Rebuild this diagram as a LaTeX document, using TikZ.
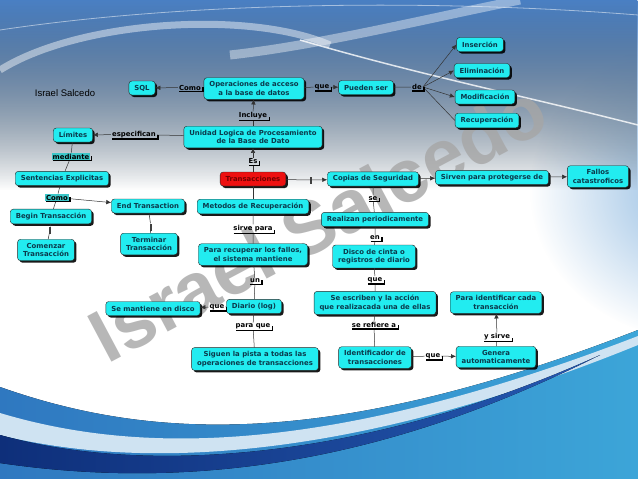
\documentclass[tikz,border=0pt]{standalone}
\usepackage{fontspec}
\setmainfont{DejaVu Sans}
\newfontfamily\wmfont{Liberation Sans}
\usetikzlibrary{arrows.meta,shadows,fadings}

\definecolor{boxcyan}{HTML}{22ECF0}
\definecolor{boxtext}{HTML}{0B3A4C}
\definecolor{linkcyan}{HTML}{3CC6C8}
\definecolor{transred}{HTML}{EE1010}
\definecolor{skytop}{HTML}{4A80C4}
\definecolor{skymid}{HTML}{A8CAE8}
\definecolor{skyglow}{HTML}{8CB8E0}
\definecolor{waveleft}{HTML}{2F78C0}
\definecolor{waveright}{HTML}{3CA5D8}
\definecolor{wavelight}{HTML}{CFE3F2}
\definecolor{navyleft}{HTML}{0E2F7A}
\definecolor{navyright}{HTML}{2458B0}

\tikzfading[name=skyfade, top color=transparent!0, bottom color=transparent!100]
\tikzfading[name=glowfade, inner color=transparent!0, outer color=transparent!100]

\newcommand{\boxfont}{\fontsize{6.9}{8.6}\selectfont\bfseries}

\tikzset{
  concept/.style={draw=black!85, fill=boxcyan, text=boxtext, font=\boxfont, rounded corners=3pt,
    align=center, inner xsep=5.5pt, inner ysep=3.8pt, minimum height=14pt,
    drop shadow={shadow xshift=2pt, shadow yshift=-2pt, fill=black, opacity=.9}},
  key/.style={concept, fill=transred, text=red!45!black},
  link/.style={font=\boxfont, text=black, inner sep=1pt},
  linkc/.style={link, fill=linkcyan},
  blank/.style={fill=black!75, minimum width=1.2pt, minimum height=7pt, inner sep=0pt},
  conn/.style={black!80, line width=.5pt},
  arr/.style={conn, -{Latex[length=5pt,width=4.5pt]}},
  uline/.style={line width=1.3pt, black},
  wm/.style={font=\wmfont\bfseries\fontsize{75}{75}\selectfont, text=gray!70, opacity=.8, rotate=28}
}

\begin{document}
\begin{tikzpicture}[x=1pt,y=-1pt]
  \useasboundingbox (0,0) rectangle (638,479);
  % background
  \fill[white] (0,0) rectangle (638,479);
  \fill[skyglow, path fading=glowfade] (700,190) ellipse (170 and 150);
  \fill[top color=skytop, bottom color=skymid, path fading=skyfade] (0,0) rectangle (638,190);
  \draw[white, opacity=.45, line width=7pt] (0,70) .. controls (80,20) and (250,10) .. (330,45);
  \draw[white, opacity=.4, line width=9pt] (230,55) .. controls (320,45) and (420,20) .. (520,0);
  \draw[white, opacity=.5, line width=.8pt] (0,30) .. controls (200,0) and (450,0) .. (638,15);
  \draw[white, opacity=.8, line width=1.5pt] (300,40) .. controls (420,75) and (520,95) .. (638,125);
  \fill[left color=waveleft, right color=waveright] (0,387) .. controls (150,440) and (330,450) .. (638,330) -- (638,479) -- (0,479) -- cycle;
  \fill[wavelight] (0,413) .. controls (140,455) and (330,455) .. (638,336) -- (638,345) .. controls (350,462) and (140,470) .. (0,435) -- cycle;
  \fill[left color=navyleft, right color=navyright] (0,435) .. controls (130,472) and (350,468) .. (600,355) .. controls (450,430) and (250,500) .. (0,463) -- cycle;
  % watermark
  \node[wm] (wm) at (318,222) {Israel Salcedo};
  \node[font=\wmfont\fontsize{9.5}{11}\selectfont] (author) at (65,93) {Israel Salcedo};

  % concepts
  \node[concept] (sql) at (142,88) {SQL};
  \node[concept] (ops) at (254,88.5) {Operaciones de acceso\\a la base de datos};
  \node[concept] (pueden) at (366,87.5) {Pueden ser};
  \node[concept] (ins) at (480,44.5) {Inserción};
  \node[concept] (elim) at (482,70.5) {Eliminación};
  \node[concept] (modif) at (485,97) {Modificación};
  \node[concept] (recup) at (487,120.5) {Recuperación};
  \node[concept] (unidad) at (253,137) {Unidad Logica de Procesamiento\\de la Base de Dato};
  \node[concept] (limites) at (73,135) {Límites};
  \node[concept] (sent) at (62,178.5) {Sentencias Explicitas};
  \node[concept] (endt) at (148,206) {End Transaction};
  \node[concept] (begint) at (51,216.5) {Begin Transacción};
  \node[concept] (comenzar) at (46,250) {Comenzar\\Transacción};
  \node[concept] (terminar) at (149,244) {Terminar\\Transacción};
  \node[key] (trans) at (253,179) {Transacciones};
  \node[concept] (copias) at (373,179) {Copias de Seguridad};
  \node[concept] (sirven) at (492,177.5) {Sirven para protegerse de};
  \node[concept] (fallos) at (598,176.5) {Fallos\\catastroficos};
  \node[concept] (realizan) at (375,219.5) {Realizan periodicamente};
  \node[concept] (disco) at (374,256.5) {Disco de cinta o\\registros de diario};
  \node[concept] (escriben) at (375,303) {Se escriben y la acción\\que realizacada una de ellas};
  \node[concept] (ident) at (375,357.5) {Identificador de\\transacciones};
  \node[concept] (genera) at (496,357) {Genera\\automaticamente};
  \node[concept] (paraid) at (496,302.5) {Para identificar cada\\transacción};
  \node[concept] (metodos) at (253,206.5) {Metodos de Recuperación};
  \node[concept] (recuperar) at (253,254.5) {Para recuperar los fallos,\\el sistema mantiene};
  \node[concept] (diario) at (254,306.5) {Diario (log)};
  \node[concept] (mantiene) at (153,308.5) {Se mantiene en disco};
  \node[concept] (siguen) at (255,359) {Siguen la pista a todas las\\operaciones de transacciones};

  % linking phrases
  \node[link] (como) at (190,87.5) {Como};
  \node[link] (que1) at (322,87) {que};
  \node[link] (de) at (417,87) {de};
  \node[link] (incluye) at (253,116) {Incluye};
  \node[link] (especifican) at (134,134.5) {especifican};
  \node[linkc] (mediante) at (71,156.5) {mediante};
  \node[linkc] (como2) at (57,197.5) {Como};
  \node[link] (es) at (253,161.5) {Es};
  \node[link] (se) at (373,198.5) {se};
  \node[link] (en) at (375,238) {en};
  \node[link] (que2) at (375,280) {que};
  \node[link] (refiere) at (374,325) {se refiere a};
  \node[link] (que3) at (433,356) {que};
  \node[link] (ysirve) at (497,337) {y sirve};
  \node[link] (sirvepara) at (253,229) {sirve para};
  \node[link] (un) at (255,281) {un};
  \node[link] (que4) at (217,307) {que};
  \node[link] (paraque) at (253,326.5) {para que};
  \node[blank] (t1) at (50,230) {};
  \node[blank] (t2) at (151,227) {};
  \node[blank] (t3) at (311,180) {};

  % connectors
  \draw[conn] (ops) -- (como);
  \draw[arr] (como) -- (sql);
  \draw[conn] (ops) -- (que1);
  \draw[arr] (que1) -- (pueden);
  \draw[conn] (pueden) -- (de);
  \draw[arr] (de.east) -- (ins.west);
  \draw[arr] (de.east) -- (elim.west);
  \draw[arr] (de.east) -- (modif.west);
  \draw[conn] (de.east) -- (recup.west);
  \draw[conn] (unidad) -- (incluye);
  \draw[arr] (incluye) -- (ops);
  \draw[conn] (unidad) -- (especifican);
  \draw[arr] (especifican) -- (limites);
  \draw[conn] (limites) -- (mediante) -- (sent);
  \draw[conn] (sent) -- (como2) -- (begint);
  \draw[arr] (como2) -- (endt);
  \draw[conn] (begint) -- (t1) -- (comenzar);
  \draw[conn] (endt) -- (t2) -- (terminar);
  \draw[conn] (trans) -- (es);
  \draw[arr] (es) -- (unidad);
  \draw[conn] (trans) -- (t3);
  \draw[arr] (t3) -- (copias);
  \draw[conn] (trans) -- (metodos);
  \draw[arr] (copias) -- (sirven);
  \draw[arr] (sirven) -- (fallos);
  \draw[conn] (copias) -- (se) -- (realizan) -- (en) -- (disco) -- (que2) -- (escriben) -- (refiere) -- (ident);
  \draw[conn] (ident) -- (que3);
  \draw[arr] (que3) -- (genera);
  \draw[conn] (genera) -- (ysirve);
  \draw[arr] (ysirve) -- (paraid);
  \draw[conn] (metodos) -- (sirvepara) -- (recuperar) -- (un) -- (diario) -- (paraque) -- (siguen);
  \draw[conn] (diario) -- (que4);
  \draw[arr] (que4) -- (mantiene);

  % shadows of the linking phrases
  \foreach \l in {como,que1,de,incluye,especifican,mediante,como2,es,se,en,que2,refiere,que3,ysirve,sirvepara,un,que4,paraque}
    \draw[uline] ([xshift=1.5pt]\l.south west) -- ([xshift=1pt]\l.south east) -- ([xshift=1pt,yshift=4pt]\l.south east);
\end{tikzpicture}
\end{document}
